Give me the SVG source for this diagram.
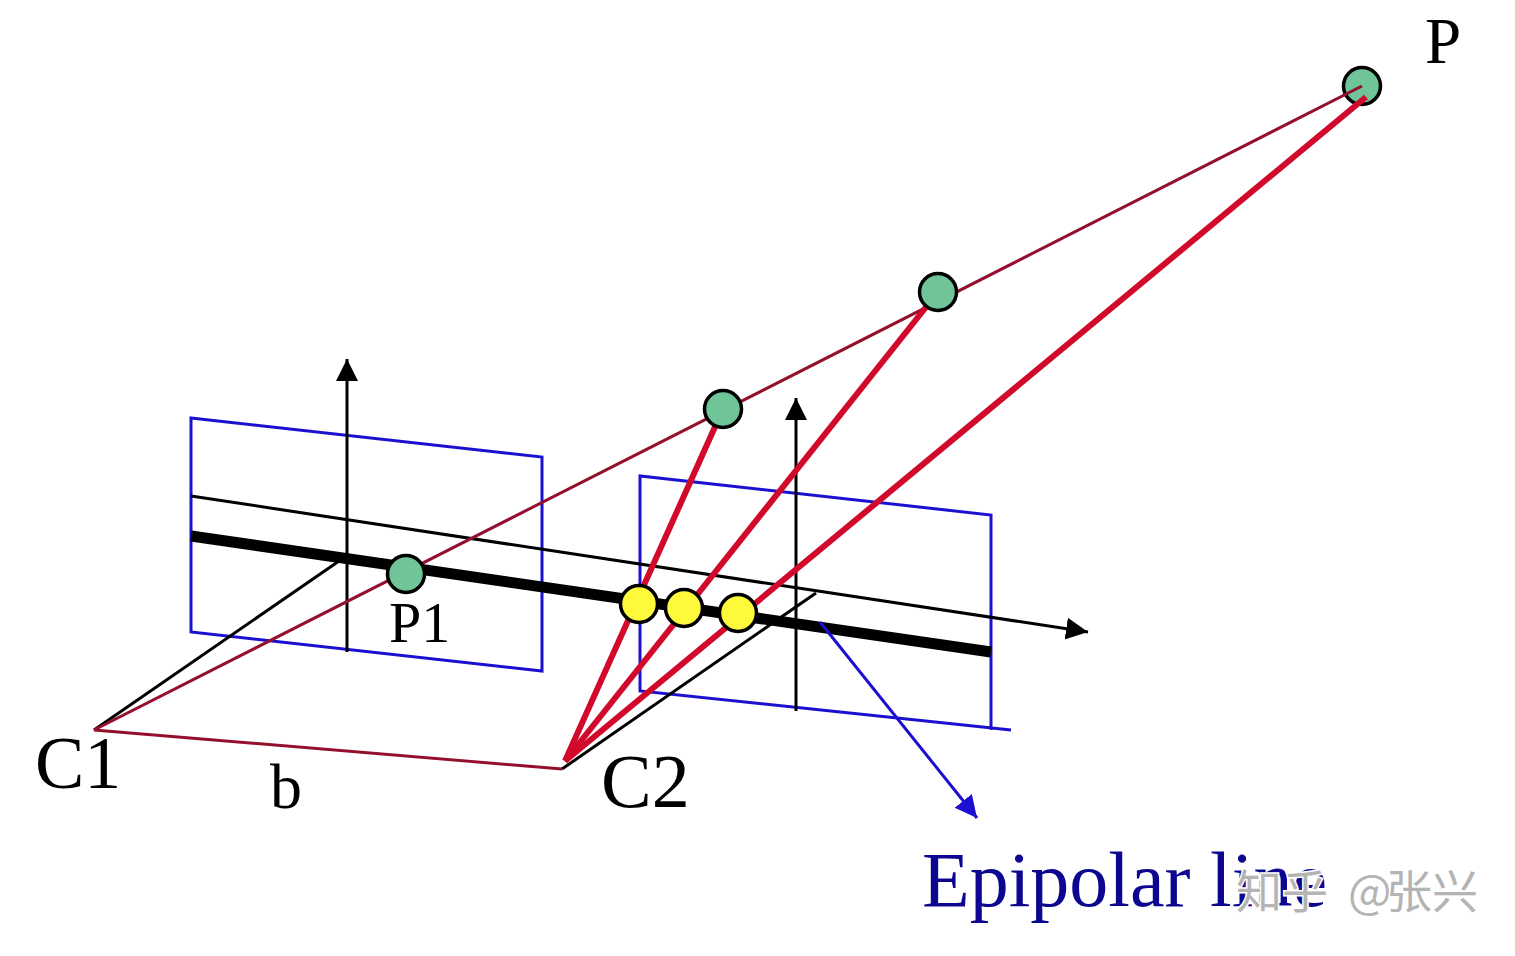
<svg xmlns="http://www.w3.org/2000/svg" width="1515" height="956" viewBox="0 0 1515 956">
<style>
.blue{fill:none;stroke:#1c10d0;stroke-width:3}
.blk{fill:none;stroke:#000;stroke-width:3}
.dred{fill:none;stroke:#930f2c;stroke-width:3}
.red{fill:none;stroke:#d10a2c;stroke-width:6}
.g{fill:#6fc598;stroke:#000;stroke-width:3.5}
.y{fill:#fff93c;stroke:#000;stroke-width:3.5}
text{font-family:"Liberation Serif","Times New Roman",serif;fill:#000}
.wm{font-family:"Noto Sans CJK SC","Noto Sans",sans-serif;fill:#b4b4b4;font-size:46px;stroke:#fff;stroke-width:3;paint-order:stroke}
</style>
<defs>
<marker id="ah" markerUnits="userSpaceOnUse" markerWidth="24" markerHeight="24" refX="22" refY="12" orient="auto"><path d="M0 1L22 12L0 23z" fill="#000"/></marker>
<marker id="ab" markerUnits="userSpaceOnUse" markerWidth="24" markerHeight="24" refX="22" refY="12" orient="auto"><path d="M0 1L22 12L0 23z" fill="#1c10d0"/></marker>
</defs>
<rect width="1515" height="956" fill="#fff"/>
<g id="node-P"><circle class="g" cx="1362" cy="86" r="18.5"/><text x="1425" y="63" font-size="65">P</text></g>
<g id="connectors">
<path class="blue" d="M191 418L542 457V671L191 632Z"/>
<path class="blue" d="M991 730V515L640 476V691L1011 730"/>
<path class="blk" d="M347 652V359" marker-end="url(#ah)"/>
<path class="blk" d="M796 711V398" marker-end="url(#ah)"/>
<path class="blk" d="M191 496L1088 632" marker-end="url(#ah)"/>
<path d="M191 536L991 652" fill="none" stroke="#000" stroke-width="11"/>
<path class="blk" d="M94 730L342 559"/>
<path class="blk" d="M562 769L816 593"/>
<path class="dred" d="M94 730L1362 86"/>
<path class="dred" d="M94 730L562 769"/>
<path class="red" d="M565 761L723 409"/>
<path class="red" d="M565 761L938 292"/>
<path class="red" d="M565 761L1366 97"/>
<path class="blue" d="M820 622L977 818" marker-end="url(#ab)"/>
</g>
<g id="node-mid2"><circle class="g" cx="938" cy="292" r="18.5"/></g>
<g id="node-mid1"><circle class="g" cx="723" cy="409" r="18.5"/></g>
<g id="node-P1"><circle class="g" cx="406" cy="574" r="18.5"/><text x="389" y="642" font-size="58">P1</text></g>
<g id="node-y1"><circle class="y" cx="639" cy="604" r="18.5"/></g>
<g id="node-y2"><circle class="y" cx="684" cy="608" r="18.5"/></g>
<g id="node-y3"><circle class="y" cx="738" cy="613" r="18.5"/></g>
<g id="node-C1"><text x="35" y="788" font-size="74">C1</text></g>
<g id="node-C2"><text x="601" y="807" font-size="76">C2</text></g>
<g id="node-b"><text x="270" y="808" font-size="64">b</text></g>
<g id="node-epipolar"><text x="922" y="906" font-size="78" style="fill:#0c0690">Epipolar line</text></g>
<text class="wm" y="908"><tspan x="1236">知乎</tspan><tspan x="1348">@</tspan><tspan x="1386">张兴</tspan></text>
</svg>
